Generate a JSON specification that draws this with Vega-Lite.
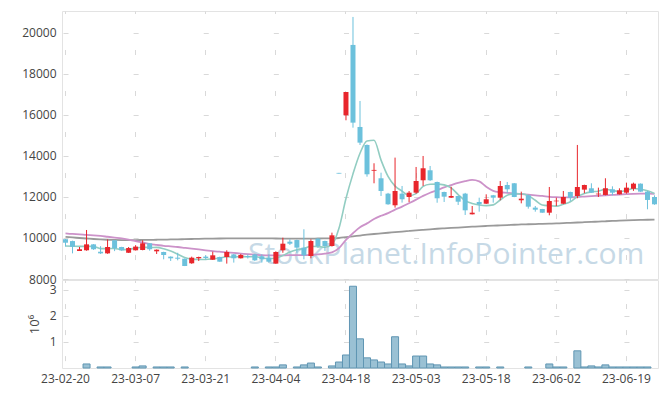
{
"$schema": "https://vega.github.io/schema/vega-lite/v6.json",
"padding": {"left": 21, "top": 10, "right": 5, "bottom": 5},
"background": "white",
"spacing": 1,
"bounds": "flush",
"config": {
  "font": "Open Sans",
  "view": {"stroke": "#e3e3e3"},
  "axis": {"labelFont": "Open Sans", "labelFontSize": 12, "labelColor": "#444", "titleFont": "Open Sans", "titleColor": "#444", "ticks": false, "domain": false, "gridColor": "#d9d9d9"}
},
"resolve": {"scale": {"x": "shared"}},
"datasets": {
"wm": [{"t": "StockPlanet.InfoPointer.com", "d": "23-05-11", "v": 9170}],
"p": [
{"d":"23-02-20","o":9940,"h":9950,"l":9580,"c":9770,"m5":9610,"m20":10230,"m60":10050},
{"d":"23-02-21","o":9850,"h":9870,"l":9250,"c":9575,"m5":9600,"m20":10200,"m60":10025},
{"d":"23-02-22","o":9365,"h":9560,"l":9365,"c":9450,"m5":9590,"m20":10180,"m60":10000},
{"d":"23-02-23","o":9400,"h":10390,"l":9380,"c":9690,"m5":9590,"m20":10150,"m60":9975,"v":0.155},
{"d":"23-02-24","o":9690,"h":9700,"l":9420,"c":9450,"m5":9587,"m20":10130,"m60":9950},
{"d":"23-02-27","o":9330,"h":9600,"l":9220,"c":9250,"m5":9483,"m20":10100,"m60":9930,"v":0.04},
{"d":"23-02-28","o":9250,"h":9930,"l":9230,"c":9560,"m5":9480,"m20":10060,"m60":9915,"v":0.04},
{"d":"23-03-02","o":9890,"h":9900,"l":9360,"c":9500,"m5":9490,"m20":10020,"m60":9905},
{"d":"23-03-03","o":9560,"h":9570,"l":9380,"c":9400,"m5":9432,"m20":9980,"m60":9900},
{"d":"23-03-06","o":9280,"h":9560,"l":9270,"c":9510,"m5":9444,"m20":9920,"m60":9900},
{"d":"23-03-07","o":9400,"h":9650,"l":9390,"c":9580,"m5":9510,"m20":9850,"m60":9900,"v":0.04},
{"d":"23-03-08","o":9415,"h":9890,"l":9400,"c":9740,"m5":9546,"m20":9780,"m60":9905,"v":0.08},
{"d":"23-03-09","o":9740,"h":9750,"l":9380,"c":9450,"m5":9536,"m20":9700,"m60":9910},
{"d":"23-03-10","o":9350,"h":9440,"l":9220,"c":9430,"m5":9542,"m20":9660,"m60":9915,"v":0.04},
{"d":"23-03-13","o":9317,"h":9330,"l":8960,"c":9170,"m5":9474,"m20":9620,"m60":9920,"v":0.04},
{"d":"23-03-14","o":9090,"h":9100,"l":8880,"c":9010,"m5":9360,"m20":9590,"m60":9930,"v":0.04},
{"d":"23-03-15","o":9040,"h":9280,"l":8910,"c":8990,"m5":9210,"m20":9560,"m60":9935},
{"d":"23-03-16","o":8990,"h":9000,"l":8630,"c":8634,"m5":9047,"m20":9520,"m60":9940,"v":0.04},
{"d":"23-03-17","o":8766,"h":9090,"l":8740,"c":9040,"m5":8969,"m20":9480,"m60":9950},
{"d":"23-03-20","o":9010,"h":9090,"l":8880,"c":9073,"m5":8949,"m20":9440,"m60":9960},
{"d":"23-03-21","o":9090,"h":9160,"l":8960,"c":9025,"m5":8952,"m20":9400,"m60":9965},
{"d":"23-03-22","o":8940,"h":9330,"l":8930,"c":9155,"m5":8985,"m20":9360,"m60":9970},
{"d":"23-03-23","o":9073,"h":9090,"l":8840,"c":8845,"m5":9028,"m20":9330,"m60":9975},
{"d":"23-03-24","o":9073,"h":9400,"l":8750,"c":9317,"m5":9083,"m20":9300,"m60":9980},
{"d":"23-03-27","o":9200,"h":9220,"l":8800,"c":9010,"m5":9070,"m20":9270,"m60":9985},
{"d":"23-03-28","o":9010,"h":9220,"l":9000,"c":9170,"m5":9099,"m20":9240,"m60":9985},
{"d":"23-03-29","o":9120,"h":9190,"l":9000,"c":9070,"m5":9082,"m20":9210,"m60":9985},
{"d":"23-03-30","o":9200,"h":9220,"l":8880,"c":8910,"m5":9095,"m20":9185,"m60":9985,"v":0.04},
{"d":"23-03-31","o":9106,"h":9200,"l":8800,"c":8960,"m5":9024,"m20":9160,"m60":9980},
{"d":"23-04-03","o":9040,"h":9200,"l":8800,"c":8845,"m5":8991,"m20":9150,"m60":9978,"v":0.04},
{"d":"23-04-04","o":8750,"h":9350,"l":8740,"c":9317,"m5":9020,"m20":9150,"m60":9975,"v":0.04},
{"d":"23-04-05","o":9400,"h":10015,"l":9280,"c":9722,"m5":9151,"m20":9155,"m60":9972,"v":0.12},
{"d":"23-04-06","o":9820,"h":9935,"l":9660,"c":9722,"m5":9313,"m20":9160,"m60":9970},
{"d":"23-04-07","o":9900,"h":9920,"l":9280,"c":9530,"m5":9427,"m20":9160,"m60":9970,"v":0.04},
{"d":"23-04-10","o":9530,"h":10425,"l":8960,"c":9155,"m5":9489,"m20":9165,"m60":9970,"v":0.12},
{"d":"23-04-11","o":9122,"h":9935,"l":9010,"c":9854,"m5":9597,"m20":9180,"m60":9972,"v":0.19},
{"d":"23-04-12","o":9967,"h":9990,"l":9520,"c":9610,"m5":9574,"m20":9200,"m60":9975,"v":0.04},
{"d":"23-04-13","o":9854,"h":9870,"l":9370,"c":9610,"m5":9552,"m20":9240,"m60":9978},
{"d":"23-04-14","o":9610,"h":10260,"l":9580,"c":10130,"m5":9672,"m20":9300,"m60":9985,"v":0.08},
{"d":"23-04-17","o":13175,"h":13175,"l":13140,"c":13140,"m5":10471,"m20":9505,"m60":10000,"v":0.23},
{"d":"23-04-18","o":15985,"h":17120,"l":15740,"c":17120,"m5":11924,"m20":9910,"m60":10040,"v":0.5},
{"d":"23-04-19","o":19415,"h":20780,"l":15380,"c":15625,"m5":13127,"m20":10233,"m60":10080,"v":3.14},
{"d":"23-04-20","o":15415,"h":16683,"l":14537,"c":14650,"m5":14135,"m20":10523,"m60":10120,"v":1.12},
{"d":"23-04-21","o":14537,"h":14560,"l":12990,"c":13107,"m5":14730,"m20":10713,"m60":10160,"v":0.39},
{"d":"23-04-24","o":13280,"h":13644,"l":12668,"c":13320,"m5":14764,"m20":10928,"m60":10195,"v":0.31},
{"d":"23-04-25","o":12912,"h":13185,"l":12049,"c":12293,"m5":13799,"m20":11084,"m60":10225,"v":0.23},
{"d":"23-04-26","o":12163,"h":12200,"l":11620,"c":11643,"m5":13003,"m20":11213,"m60":10255,"v":0.155},
{"d":"23-04-27","o":11595,"h":13920,"l":11480,"c":12293,"m5":12531,"m20":11382,"m60":10285,"v":1.2},
{"d":"23-04-28","o":12163,"h":12537,"l":11725,"c":11888,"m5":12287,"m20":11528,"m60":10315,"v":0.155},
{"d":"23-05-02","o":12000,"h":12290,"l":11750,"c":12210,"m5":12065,"m20":11696,"m60":10345,"v":0.08},
{"d":"23-05-03","o":12210,"h":13463,"l":12160,"c":12780,"m5":12163,"m20":11869,"m60":10375,"v":0.46},
{"d":"23-05-04","o":12815,"h":14000,"l":12540,"c":13400,"m5":12514,"m20":12053,"m60":10400,"v":0.46},
{"d":"23-05-08","o":13302,"h":13512,"l":12780,"c":12815,"m5":12619,"m20":12208,"m60":10425,"v":0.155},
{"d":"23-05-09","o":12732,"h":12750,"l":11720,"c":11937,"m5":12628,"m20":12328,"m60":10450,"v":0.12},
{"d":"23-05-10","o":12244,"h":12260,"l":11756,"c":12015,"m5":12589,"m20":12471,"m60":10470,"v":0.04},
{"d":"23-05-11","o":11966,"h":12500,"l":11950,"c":12049,"m5":12443,"m20":12581,"m60":10490,"v":0.04},
{"d":"23-05-12","o":12049,"h":12060,"l":11610,"c":11770,"m5":12117,"m20":12689,"m60":10510,"v":0.04},
{"d":"23-05-15","o":12163,"h":12200,"l":11122,"c":11350,"m5":11824,"m20":12776,"m60":10530,"v":0.04},
{"d":"23-05-16","o":11155,"h":11560,"l":11150,"c":11234,"m5":11684,"m20":12831,"m60":10550},
{"d":"23-05-17","o":11756,"h":11966,"l":11283,"c":11643,"m5":11609,"m20":12760,"m60":10570,"v":0.04},
{"d":"23-05-18","o":11673,"h":12130,"l":11660,"c":11888,"m5":11577,"m20":12500,"m60":10585,"v":0.04},
{"d":"23-05-19","o":12083,"h":12100,"l":11722,"c":11966,"m5":11616,"m20":12300,"m60":10600},
{"d":"23-05-22","o":11966,"h":12780,"l":11840,"c":12537,"m5":11854,"m20":12230,"m60":10615,"v":0.04},
{"d":"23-05-23","o":12585,"h":12732,"l":12210,"c":12375,"m5":12082,"m20":12200,"m60":10630},
{"d":"23-05-24","o":12668,"h":12680,"l":11990,"c":12000,"m5":12153,"m20":12170,"m60":10645},
{"d":"23-05-25","o":11840,"h":12260,"l":11690,"c":11917,"m5":12159,"m20":12140,"m60":10660},
{"d":"23-05-26","o":12083,"h":12100,"l":11430,"c":11527,"m5":12071,"m20":12110,"m60":10670,"v":0.04},
{"d":"23-05-30","o":11480,"h":11560,"l":11283,"c":11380,"m5":11840,"m20":12080,"m60":10680},
{"d":"23-05-31","o":11415,"h":11420,"l":11230,"c":11234,"m5":11612,"m20":12050,"m60":10690},
{"d":"23-06-01","o":11234,"h":12488,"l":11107,"c":11805,"m5":11573,"m20":12010,"m60":10700,"v":0.155},
{"d":"23-06-02","o":11790,"h":11966,"l":11560,"c":11820,"m5":11553,"m20":11990,"m60":10710,"v":0.04},
{"d":"23-06-05","o":11673,"h":12293,"l":11650,"c":12000,"m5":11648,"m20":11980,"m60":10725,"v":0.04},
{"d":"23-06-07","o":12244,"h":12260,"l":11805,"c":11966,"m5":11765,"m20":11985,"m60":10740},
{"d":"23-06-08","o":12049,"h":14537,"l":11937,"c":12488,"m5":12016,"m20":12000,"m60":10755,"v":0.66},
{"d":"23-06-09","o":12358,"h":12600,"l":12180,"c":12585,"m5":12172,"m20":12020,"m60":10770,"v":0.04},
{"d":"23-06-12","o":12424,"h":12668,"l":12200,"c":12210,"m5":12250,"m20":12040,"m60":10785,"v":0.08},
{"d":"23-06-13","o":12130,"h":12455,"l":12000,"c":12163,"m5":12282,"m20":12060,"m60":10800,"v":0.04},
{"d":"23-06-14","o":12098,"h":12912,"l":12080,"c":12424,"m5":12374,"m20":12080,"m60":10815,"v":0.12},
{"d":"23-06-15","o":12375,"h":12520,"l":12080,"c":12210,"m5":12318,"m20":12100,"m60":10830,"v":0.04},
{"d":"23-06-16","o":12130,"h":12424,"l":12120,"c":12325,"m5":12266,"m20":12120,"m60":10845,"v":0.04},
{"d":"23-06-19","o":12210,"h":12700,"l":12160,"c":12455,"m5":12315,"m20":12140,"m60":10860,"v":0.04},
{"d":"23-06-20","o":12400,"h":12700,"l":12300,"c":12650,"m5":12413,"m20":12155,"m60":10870,"v":0.04},
{"d":"23-06-21","o":12650,"h":12660,"l":12250,"c":12260,"m5":12380,"m20":12160,"m60":10880,"v":0.04},
{"d":"23-06-22","o":12260,"h":12290,"l":11400,"c":11855,"m5":12309,"m20":12160,"m60":10890,"v":0.04},
{"d":"23-06-23","o":12000,"h":12080,"l":11620,"c":11643,"m5":12173,"m20":12150,"m60":10900}
]},
"vconcat": [
{
  "width": 596, "height": 268,
  "data": {"name": "p"},
  "encoding": {
    "x": {"field": "d", "type": "ordinal", "scale": {"paddingInner": 0, "paddingOuter": 0},
      "axis": {"values": ["23-02-20","23-03-07","23-03-21","23-04-04","23-04-18","23-05-03","23-05-18","23-06-02","23-06-19"],
        "labels": false, "grid": true, "gridDash": [5, 36.01], "gridDashOffset": 2.5, "bandPosition": 0.5, "title": null, "minExtent": 0, "maxExtent": 0, "labelPadding": 0}}
  },
  "layer": [
    {"data": {"name": "wm"},
     "mark": {"type": "text", "font": "Open Sans", "fontSize": 30, "color": "#c6d9e6", "align": "center", "baseline": "middle", "dx": -5},
     "encoding": {"text": {"field": "t"}, "y": {"field": "v", "type": "quantitative", "title": null}}},
    {"mark": {"type": "line", "color": "#9a9a9a", "strokeWidth": 1.8, "interpolate": "monotone"},
     "encoding": {"y": {"field": "m60", "type": "quantitative", "title": null}}},
    {"mark": {"type": "line", "color": "#cc92c9", "strokeWidth": 1.8, "interpolate": "monotone"},
     "encoding": {"y": {"field": "m20", "type": "quantitative", "title": null}}},
    {"mark": {"type": "line", "color": "#92cdc2", "strokeWidth": 1.6, "interpolate": "monotone"},
     "encoding": {"y": {"field": "m5", "type": "quantitative", "title": null}}},
    {"mark": {"type": "rule", "strokeWidth": 1},
     "encoding": {
       "y": {"field": "l", "type": "quantitative", "scale": {"domain": [8000, 21070], "nice": false, "zero": false},
         "axis": {"values": [8000,10000,12000,14000,16000,18000,20000], "format": "d", "grid": true, "gridDash": [5, 65.118], "gridDashOffset": -1, "labelPadding": 6, "title": null}},
       "y2": {"field": "h"},
       "color": {"condition": {"test": "datum.c >= datum.o", "value": "#e8262c"}, "value": "#6cc1dc"}}},
    {"mark": {"type": "bar", "width": 5},
     "encoding": {
       "y": {"field": "o", "type": "quantitative", "title": null},
       "y2": {"field": "c"},
       "color": {"condition": {"test": "datum.c >= datum.o", "value": "#e8262c"}, "value": "#6cc1dc"}}}
  ]
},
{
  "width": 596, "height": 88,
  "data": {"name": "p"},
  "mark": {"type": "bar", "fill": "#9ac1d4", "stroke": "#6096b3", "strokeWidth": 1},
  "encoding": {
    "x": {"field": "d", "type": "ordinal", "scale": {"paddingInner": 0, "paddingOuter": 0},
      "axis": {"values": ["23-02-20","23-03-07","23-03-21","23-04-04","23-04-18","23-05-03","23-05-18","23-06-02","23-06-19"],
        "labelAngle": 0, "labelOverlap": false, "labelPadding": 5, "grid": true, "gridDash": [5, 21.04], "gridDashOffset": 2.5, "bandPosition": 0.5, "title": null}},
    "y": {"field": "v", "type": "quantitative", "scale": {"domain": [0, 3.38], "nice": false},
      "axis": {"values": [1, 2, 3], "format": "d", "grid": true, "gridDash": [5, 65.118], "gridDashOffset": -1, "labelPadding": 6, "title": "10⁶", "titleFontSize": 13, "titleFontWeight": "normal", "titlePadding": 8}}
  }
}
]
}
